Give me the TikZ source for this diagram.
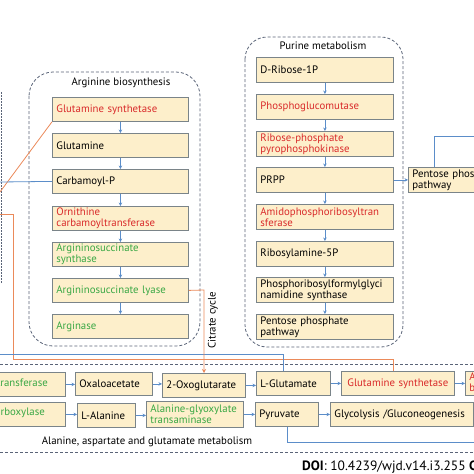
\documentclass[tikz,border=0pt]{standalone}
\usepackage{fontspec}
\setmainfont{PT Sans}
\usetikzlibrary{arrows.meta}
\definecolor{boxfill}{HTML}{FDEFCB}
\definecolor{boxline}{HTML}{7A8489}
\definecolor{enzred}{HTML}{D92B2B}
\definecolor{enzgreen}{HTML}{3AA845}
\definecolor{linkblue}{HTML}{5B8DC9}
\definecolor{linkorange}{HTML}{EB8A5A}
\definecolor{grpgray}{HTML}{5A6478}
\hyphenpenalty=10000
\exhyphenpenalty=10000
\begin{document}
\begin{tikzpicture}[x=1pt,y=-1pt,
  box/.style={draw=boxline, fill=boxfill, line width=0.8pt, anchor=north west,
    inner xsep=4pt, inner ysep=0pt, align=left,
    font=\fontsize{10.8}{11.2}\selectfont},
  lbl/.style={font=\fontsize{10.8}{11.2}\selectfont, inner sep=0pt},
  arr/.style={draw=linkblue, line width=0.7pt, -{Stealth[length=3.5pt,width=3.5pt]}},
  bline/.style={draw=linkblue, line width=0.8pt},
  oline/.style={draw=linkorange, line width=0.8pt},
  grpbox/.style={draw=grpgray, line width=0.8pt, dash pattern=on 3pt off 2pt}
]
\useasboundingbox (0,0) rectangle (474,474);
\clip (0,0) rectangle (474,474);

% ---------- Arginine biosynthesis ----------
\draw[grpbox, rounded corners=24pt] (29,72) rectangle (200,346);
\node[lbl] (ttlarg) at (121,83) {Arginine biosynthesis};
\node[box, text=enzred, text width=128pt, minimum height=24pt] (ag1) at (52,97) {Glutamine synthetase};
\node[box, text width=128pt, minimum height=24pt] (ag2) at (52,133) {Glutamine};
\node[box, text width=128pt, minimum height=24pt] (ag3) at (52,169) {Carbamoyl-P};
\node[box, text=enzred, text width=128pt, minimum height=24pt] (ag4) at (52,206) {Ornithine\\carbamoyltransferase};
\node[box, text=enzgreen, text width=128pt, minimum height=24pt] (ag5) at (52,242) {Argininosuccinate\\synthase};
\node[box, text=enzgreen, text width=128pt, minimum height=24pt] (ag6) at (52,278) {Argininosuccinate lyase};
\node[box, text=enzgreen, text width=128pt, minimum height=24pt] (ag7) at (52,314) {Arginase};
\foreach \a/\b in {ag1/ag2,ag2/ag3,ag3/ag4,ag4/ag5,ag5/ag6,ag6/ag7}
  \draw[arr] (\a.south) -- (\b.north);

% ---------- Purine metabolism ----------
\draw[grpbox, rounded corners=22pt] (245,37) rectangle (403,347);
\node[lbl] (ttlpur) at (323,46) {Purine metabolism};
\node[box, text width=129pt, minimum height=25pt] (pu1) at (256,57) {D-Ribose-1P};
\node[box, text=enzred, text width=129pt, minimum height=25pt] (pu2) at (256,94) {Phosphoglucomutase};
\node[box, text=enzred, text width=129pt, minimum height=25pt] (pu3) at (256,131) {Ribose-phosphate\\pyrophosphokinase};
\node[box, text width=129pt, minimum height=25pt] (pu4) at (256,167) {PRPP};
\node[box, text=enzred, text width=129pt, minimum height=25pt] (pu5) at (256,204) {Amidophosphoribosyltran\\sferase};
\node[box, text width=129pt, minimum height=25pt] (pu6) at (256,241) {Ribosylamine-5P};
\node[box, text width=129pt, minimum height=25pt] (pu7) at (256,277) {Phosphoribosylformylglyci\\namidine synthase};
\node[box, text width=129pt, minimum height=25pt] (pu8) at (256,314) {Pentose phosphate\\pathway};
\foreach \a/\b in {pu1/pu2,pu2/pu3,pu3/pu4,pu4/pu5,pu5/pu6,pu6/pu7,pu7/pu8}
  \draw[arr] (\a.south) -- (\b.north);

% right pentose box
\node[box, text width=92pt, minimum height=25pt] (pent) at (408,167) {Pentose phosphate\\pathway};
\draw[arr] (pu4.east) -- (pent.west);
\coordinate (pentout) at (474,136);
\draw[bline] (pent.north -| 434,0) -- (434,136) -- (pentout);

% left cut-off group
\draw[grpbox, dash pattern=on 2pt off 1pt] (1,92) -- (1,283);

% ---------- Alanine, aspartate and glutamate metabolism ----------
\draw[grpbox] (0,364) -- (474,364);
\draw[grpbox] (0,452) -- (474,452);
\node[lbl] (ttlala) at (147,442) {Alanine, aspartate and glutamate metabolism};

% row 1
\node[box, minimum width=125pt, minimum height=24pt] (t1) at (-60,372) {};
\node[lbl, text=enzgreen, anchor=east] (t1txt) at (48,384) {Aspartate aminotransferase};
\node[box, text width=69pt, minimum height=23pt] (oxa) at (75,372) {Oxaloacetate};
\node[box, text width=75pt, minimum height=24pt] (oxg) at (162,373) {2-Oxoglutarate};
\node[box, text width=66pt, minimum height=24pt] (lglu) at (256,371) {L-Glutamate};
\node[box, text=enzred, text width=105pt, minimum height=24pt, inner xsep=4pt] (gs2) at (341,371) {\hspace{2pt}Glutamine synthetase};
\node[box, text=enzred, text width=72pt, minimum height=24pt] (abox) at (465,371) {Arginine\\biosynthesis};
\draw[arr] (t1.east) -- (t1.east -| oxa.west);
\draw[arr] (oxa.east) -- (oxa.east -| oxg.west);
\draw[arr] (oxg.east) -- (oxg.east -| lglu.west);
\draw[arr] (lglu.east) -- (gs2.west);
\draw[arr] (gs2.east) -- (abox.west);

% row 2
\node[box, minimum width=125pt, minimum height=24pt] (t2) at (-60,402) {};
\node[lbl, text=enzgreen, anchor=east] (t2txt) at (45,413) {Pyruvate carboxylase};
\node[box, text width=50pt, minimum height=24pt] (lala) at (77,403) {L-Alanine};
\node[box, text=enzgreen, text width=89pt, minimum height=26pt] (agt) at (146,401) {Alanine-glyoxylate\\transaminase};
\node[box, text width=55pt, minimum height=24pt] (pyr) at (255,402) {Pyruvate};
\node[box, text width=135pt, minimum height=24pt] (gly) at (330,402) {Glycolysis /Gluconeogenesis};
\draw[arr] (t2.east) -- (t2.east -| lala.west);
\draw[arr] (lala.east) -- (lala.east -| agt.west);
\draw[arr] (agt.east) -- (agt.east -| pyr.west);
\draw[arr] (pyr.east) -- (gly.west);
\coordinate (pyrout) at (474,442);
\draw[bline] (pyr.south -| 287,0) -- (287,442) -- (pyrout);

% ---------- cross links ----------
\coordinate (lgs) at (0,192);
\draw[oline] (ag1.south west) -- (lgs);
\coordinate (lcarb) at (0,182);
\draw[bline] (ag3.west) -- (lcarb);
\coordinate (lorg) at (0,214);
\draw[oline] (lorg) -- (13,214) -- (13,359) -- (393,359) -- (393,0 |- gs2.north);
\coordinate (lblu) at (0,354);
\draw[bline] (lblu) -- (283,354) -- (283,0 |- lglu.north);
\draw[oline, -{Stealth[length=4pt,width=4pt]}] (ag6.east) -- (204,290) -- (204,0 |- oxg.north);
\node[lbl, rotate=90] (cit) at (213,320) {Citrate cycle};

% DOI
\node[lbl, anchor=base west, font=\fontsize{13.5}{14}\selectfont] (doi) at (302,470) {\textbf{DOI}: 10.4239/wjd.v14.i3.255 \textbf{Copyright}};
\end{tikzpicture}
\end{document}
